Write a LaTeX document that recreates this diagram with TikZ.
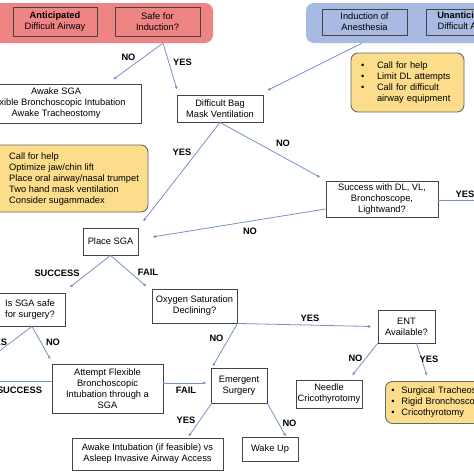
\documentclass[tikz,border=0pt]{standalone}
\usepackage{fontspec}
\setmainfont{Liberation Sans}
\usetikzlibrary{arrows.meta}
\definecolor{bandred}{RGB}{239,132,132}
\definecolor{bandblue}{RGB}{168,186,226}
\definecolor{tipyellow}{RGB}{252,221,140}
\definecolor{linkblue}{RGB}{118,146,198}
\definecolor{edgegray}{RGB}{68,68,68}
\newcommand{\tipitem}[1][16pt]{\makebox[#1][l]{\textbullet}}

\begin{document}
\begin{tikzpicture}[x=1pt, y=-1pt,
    every node/.style={font=\fontsize{9.3}{11}\selectfont, inner sep=0pt},
    box/.style={draw=edgegray, line width=0.9pt, fill=white, align=center},
    tip/.style={draw=edgegray!80, line width=0.9pt, fill=tipyellow,
      rounded corners=7pt},
    band/.style={rounded corners=8pt},
    lbl/.style={font=\fontsize{9.3}{11}\selectfont\bfseries},
    link/.style={draw=linkblue, line width=0.8pt,
      -{Latex[length=3.5pt,width=3pt]}}]
  \useasboundingbox (0,0) rectangle (474,474);
  \fill[white] (0,0) rectangle (474,474);
  \clip (0,0) rectangle (474,474);

  \node[band, fill=bandred, minimum width=233pt, minimum height=40pt] (redband) at (96.5,23) {};
  \node[band, fill=bandblue, minimum width=194pt, minimum height=40pt] (blueband) at (403,23) {};
  \node[box, fill=bandred, minimum width=84pt, minimum height=29pt] (antic) at (55,21.5) {\textbf{Anticipated}\\Difficult Airway};
  \node[box, fill=bandred, minimum width=85pt, minimum height=29pt] (safe) at (157.5,21.5) {Safe for\\Induction?};
  \node[box, fill=bandblue, minimum width=85pt, minimum height=26pt] (induct) at (364.5,22) {Induction of\\Anesthesia};
  \node[box, fill=bandblue, minimum width=84pt, minimum height=26pt] (unantic) at (468,22) {\textbf{Unanticipated}\\Difficult Airway};

  \node[tip, minimum width=113pt, minimum height=59pt, text width=93pt, align=left] (tipsA) at (407.5,82.5)
    {\tipitem Call for help\\\tipitem Limit DL attempts\\\tipitem Call for difficult\\\hspace*{16pt}airway equipment};
  \node[tip, minimum width=168pt, minimum height=67pt] (tipsB) at (64,178.5) {};
  \node[align=left, anchor=west] (tipsBtext) at (9,179.5)
    {Call for help\\Optimize jaw/chin lift\\Place oral airway/nasal trumpet\\Two hand mask ventilation\\Consider sugammadex};
  \node[tip, anchor=north west, minimum width=125pt, minimum height=42pt, text width=113pt, align=left] (tipsC) at (385,381)
    {\tipitem[10pt]Surgical Tracheostomy\\\tipitem[10pt]Rigid Bronchoscopy\\\tipitem[10pt]Cricothyrotomy};

  \node[box, minimum width=170pt, minimum height=39pt] (awake) at (56,103.5) {Awake SGA\\Flexible Bronchoscopic Intubation\\Awake Tracheostomy};
  \node[box, minimum width=86pt, minimum height=27pt] (dbmv) at (220,108.5) {Difficult Bag\\Mask Ventilation};
  \node[box, minimum width=112pt, minimum height=36pt] (success) at (382,199) {Success with DL, VL,\\Bronchoscope,\\Lightwand?};
  \node[box, minimum width=55pt, minimum height=27pt] (sga) at (110.5,241.5) {Place SGA};
  \node[box, minimum width=70pt, minimum height=33pt] (safesga) at (30,309.5) {Is SGA safe\\for surgery?};
  \node[box, minimum width=85pt, minimum height=34pt] (oxy) at (194.5,306) {Oxygen Saturation\\Declining?};
  \node[box, minimum width=57pt, minimum height=33pt] (ent) at (406.5,326.5) {ENT\\Available?};
  \node[box, minimum width=111pt, minimum height=49pt] (attempt) at (107.5,388.5) {Attempt Flexible\\Bronchoscopic\\Intubation through a\\SGA};
  \node[box, minimum width=56pt, minimum height=35pt] (emerg) at (239,385.5) {Emergent\\Surgery};
  \node[box, minimum width=66pt, minimum height=28pt] (needle) at (329,394) {Needle\\Cricothyrotomy};
  \node[box, minimum width=56pt, minimum height=24pt] (wake) at (270,449) {Wake Up};
  \node[box, minimum width=151pt, minimum height=32pt] (awakeint) at (147.5,454) {Awake Intubation (if feasible) vs\\Asleep Invasive Airway Access};

  \coordinate (rbout) at ([xshift=66.5pt]redband.south);
  \coordinate (bbout) at ([xshift=-41pt]blueband.south);
  \coordinate (yesout) at (480,200);
  \coordinate (safeout) at (-10,358);
  \coordinate (succout) at (-10,381);

  \draw[link] (rbout) -- ([xshift=57pt,yshift=4pt]awake.north);
  \draw[link] (rbout) -- ([xshift=-43pt,yshift=5pt]dbmv.north);
  \draw[link] (bbout) -- ([xshift=47pt,yshift=4pt]dbmv.north);
  \draw[link] (dbmv.south) -- ([xshift=32.5pt,yshift=6pt]sga.north);
  \draw[link] (dbmv.south) -- ([xshift=-5pt,yshift=3pt]success.north west);
  \draw[link] ([yshift=-10pt]success.west) -- ([xshift=14pt,yshift=4.5pt]sga.east);
  \draw[link, -] ([yshift=-1pt]success.east) -- (yesout);
  \draw[link] (sga.south) -- ([xshift=4pt,yshift=5pt]safesga.north east);
  \draw[link] (sga.south) -- ([xshift=-5pt,yshift=2pt]oxy.north west);
  \draw[link, -] ([xshift=2pt]safesga.south) -- (safeout);
  \draw[link] ([xshift=2pt]safesga.south) -- ([xshift=-1pt,yshift=4pt]attempt.north west);
  \draw[link, -] ([yshift=7.5pt]attempt.west) -- (succout);
  \draw[link] ([yshift=5.5pt]attempt.east) -- ([xshift=-4pt,yshift=2.5pt]emerg.west);
  \draw[link] (oxy.south east) -- ([xshift=2pt,yshift=1pt]emerg.north west);
  \draw[link] (oxy.south east) -- ([xshift=-6pt]ent.west);
  \draw[link] (ent.south west) -- ([xshift=23pt,yshift=4pt]needle.north);
  \draw[link] ([xshift=39pt]ent.south west) -- ([xshift=42pt,yshift=5pt]tipsC.north west);
  \draw[link] ([xshift=1pt]emerg.south west) -- ([xshift=41pt,yshift=1pt]awakeint.north);
  \draw[link] (emerg.south east) -- ([xshift=16pt]wake.north);

  \node[lbl] (noA) at (128.5,57) {NO};
  \node[lbl] (yesA) at (182.5,62) {YES};
  \node[lbl] (yesB) at (182,152) {YES};
  \node[lbl] (noB) at (283,143) {NO};
  \node[lbl] (noC) at (250,231) {NO};
  \node[lbl] (yesC) at (465,194) {YES};
  \node[lbl] (succA) at (57,273) {SUCCESS};
  \node[lbl] (failA) at (148,272) {FAIL};
  \node[lbl] (yesD) at (-2.3,342) {YES};
  \node[lbl] (noD) at (53,342) {NO};
  \node[lbl] (succB) at (19.5,390) {SUCCESS};
  \node[lbl] (failB) at (186,390) {FAIL};
  \node[lbl] (noE) at (216.5,338.5) {NO};
  \node[lbl] (yesE) at (310,318) {YES};
  \node[lbl] (noF) at (355.5,358) {NO};
  \node[lbl] (yesF) at (429,359) {YES};
  \node[lbl] (yesG) at (186,420.5) {YES};
  \node[lbl] (noG) at (289.5,423.5) {NO};
\end{tikzpicture}
\end{document}
